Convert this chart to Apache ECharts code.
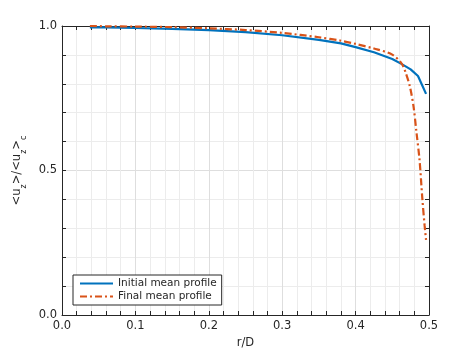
<!DOCTYPE html>
<html>
<head>
<meta charset="utf-8">
<script src="https://cdn.jsdelivr.net/npm/echarts@6/dist/echarts.min.js"></script>
<style>html,body{margin:0;padding:0;background:#fff}#c{width:474px;height:355px}</style>
</head>
<body>
<div id="c"></div>
<script>
const seriesNames = ['Initial mean profile', 'Final mean profile'];
const initialR = [0.038, 0.06, 0.1, 0.15, 0.2, 0.25, 0.3, 0.35, 0.38, 0.4, 0.425, 0.45, 0.463, 0.475, 0.485, 0.496];
const initialU = [0.995, 0.995, 0.993, 0.990, 0.986, 0.979, 0.968, 0.952, 0.940, 0.927, 0.909, 0.886, 0.868, 0.850, 0.827, 0.765];
const finalR = [0.038, 0.06, 0.1, 0.15, 0.2, 0.25, 0.3, 0.35, 0.38, 0.4, 0.425, 0.45, 0.463, 0.468, 0.474, 0.479, 0.483, 0.487, 0.491, 0.494, 0.496];
const finalU = [1.000, 0.999, 0.998, 0.996, 0.992, 0.986, 0.976, 0.961, 0.949, 0.938, 0.922, 0.901, 0.869, 0.840, 0.790, 0.720, 0.630, 0.540, 0.400, 0.310, 0.260];
const xTicks = [0, 0.1, 0.2, 0.3, 0.4, 0.5];
const yTicks = [0, 0.5, 1.0];

const F = 'DejaVu Sans';
const axisCol = '#262626';
function pairs(xs, ys){ return xs.map((x,i)=>[x, ys[i]]); }

const common = {
  axisLine: {show: true, onZero: false, lineStyle: {color: axisCol, width: 1}},
  axisTick: {show: true, inside: true, length: 4, lineStyle: {color: axisCol}},
  minorTick: {show: true, splitNumber: 5, length: 4, lineStyle: {color: axisCol}},
};
const chart = echarts.init(document.getElementById('c'), null, {renderer: 'canvas'});
chart.setOption({
  animation: false,
  backgroundColor: '#fff',
  grid: {left: 62, right: 45, top: 26, bottom: 40, containLabel: false},
  xAxis: [
    Object.assign({}, common, {
      type: 'value', min: 0, max: 0.5, interval: 0.1, position: 'bottom',
      name: 'r/D', nameLocation: 'middle', nameGap: 22,
      nameTextStyle: {fontFamily: F, fontSize: 11.5, color: axisCol},
      axisLabel: {fontFamily: F, fontSize: 11.5, color: axisCol, margin: 5,
        formatter: v => xTicks.some(t => Math.abs(t - v) < 1e-9) ? v.toFixed(1) : ''},
      splitLine: {show: true, lineStyle: {color: '#dedede', width: 1}},
      minorSplitLine: {show: true, lineStyle: {color: '#ececec', width: 1}}
    }),
    Object.assign({}, common, {
      type: 'value', min: 0, max: 0.5, interval: 0.1, position: 'top',
      axisLabel: {show: false}, splitLine: {show: false}
    })
  ],
  yAxis: [
    Object.assign({}, common, {
      type: 'value', min: 0, max: 1, interval: 0.5, position: 'left',
      name: '{m|<u}{s|z}{m|>/<u}{s|z}{m|>}{s|c}', nameLocation: 'middle', nameGap: 32, nameRotate: 90,
      nameTextStyle: {fontFamily: F, fontSize: 11.5, color: axisCol,
        rich: {
          m: {fontFamily: F, fontSize: 11.5, color: axisCol, lineHeight: 14, verticalAlign: 'top'},
          s: {fontFamily: F, fontSize: 8, color: axisCol, lineHeight: 9, padding: [9, 0, 0, 0], verticalAlign: 'top'}
        }},
      axisLabel: {fontFamily: F, fontSize: 11.5, color: axisCol, margin: 5,
        formatter: v => yTicks.some(t => Math.abs(t - v) < 1e-9) ? v.toFixed(1) : ''},
      splitLine: {show: true, lineStyle: {color: '#dedede', width: 1}},
      minorSplitLine: {show: true, lineStyle: {color: '#ececec', width: 1}}
    }),
    Object.assign({}, common, {
      type: 'value', min: 0, max: 1, interval: 0.5, position: 'right',
      axisLabel: {show: false}, splitLine: {show: false}
    })
  ],
  legend: {
    show: true, orient: 'vertical', left: 73, top: 275,
    itemWidth: 33, itemHeight: 10, itemGap: 2,
    padding: [3, 5, 3, 6],
    borderColor: axisCol, borderWidth: 1, backgroundColor: '#fff',
    itemStyle: {opacity: 0},
    textStyle: {fontFamily: F, fontSize: 10.5, color: axisCol},
    data: seriesNames
  },
  series: [
    {name: seriesNames[0], type: 'line', data: pairs(initialR, initialU), showSymbol: false, symbol: 'none',
     lineStyle: {color: '#0072BD', width: 2.2}, itemStyle: {color: '#0072BD'}, z: 3},
    {name: seriesNames[1], type: 'line', data: pairs(finalR, finalU), showSymbol: false, symbol: 'none', smooth: 0.3,
     lineStyle: {color: '#D95319', width: 2.2, type: [7, 3, 2, 3]}, itemStyle: {color: '#D95319'}, z: 4}
  ]
});
</script>
</body>
</html>
